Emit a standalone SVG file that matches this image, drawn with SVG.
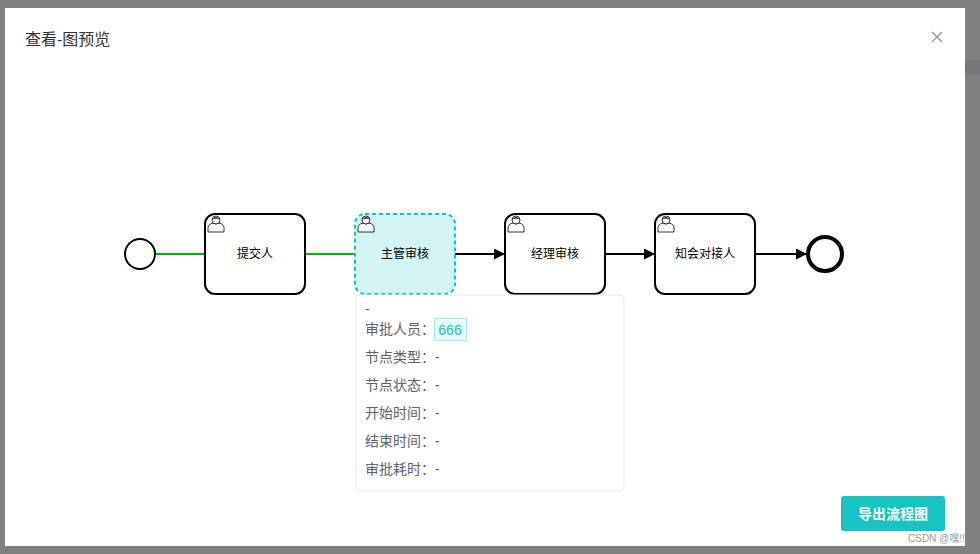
<svg xmlns="http://www.w3.org/2000/svg" width="980" height="554" viewBox="0 0 980 554">
<defs>
<style>
.t{font-family:"Liberation Sans","Noto Sans CJK SC",sans-serif}
.task{fill:#fff;stroke:#000;stroke-width:2}
.lbl{font-size:12px;fill:#000;text-anchor:middle}
.info{font-size:14px;fill:#606266}
.icon{fill:#fff;stroke:#000;stroke-width:0.8}
</style>
<marker id="arr" viewBox="0 0 10 10" refX="10" refY="5" markerWidth="6" markerHeight="6" orient="auto" markerUnits="userSpaceOnUse"><path d="M0,0L10,5L0,10z" fill="#000"/></marker>
<marker id="a2" viewBox="0 0 10 10" refX="10" refY="5" markerWidth="11" markerHeight="11" orient="auto" markerUnits="userSpaceOnUse"><path d="M0,0L10,5L0,10z" fill="#000"/></marker>
<g id="user"><path class="icon" d="M2,17 v-4 q0,-4 5,-5 q3,2 6,0 q5,1 5,5 v4 z"/><circle class="icon" cx="10" cy="5" r="4"/><path d="M6,4.5 q4,-5 8,0 q-4,-2 -8,0z" fill="#000"/></g>
</defs>
<rect width="980" height="554" fill="#808080"/>
<rect x="965" y="60" width="15" height="14" fill="#75777b"/>
<rect x="5" y="8" width="960" height="538" fill="#fff"/>
<text class="t" x="25" y="45" font-size="16" fill="#303133">查看-图预览</text>
<path d="M932,32 l10,10 M942,32 l-10,10" stroke="#909399" stroke-width="1.3"/>
<g id="connectors" fill="none" stroke-width="2">
<line x1="155" y1="254" x2="205" y2="254" stroke="#00b400"/>
<line x1="305" y1="254" x2="355" y2="254" stroke="#00b400"/>
<line x1="455" y1="254" x2="505" y2="254" stroke="#000" marker-end="url(#a2)"/>
<line x1="605" y1="254" x2="655" y2="254" stroke="#000" marker-end="url(#a2)"/>
<line x1="755" y1="254" x2="807" y2="254" stroke="#000" marker-end="url(#a2)"/>
</g>
<g id="start"><circle cx="140" cy="254" r="15" fill="#fff" stroke="#000" stroke-width="2"/></g>
<g id="end"><circle cx="825" cy="254" r="17" fill="#fff" stroke="#000" stroke-width="4"/></g>
<g id="t1"><rect class="task" x="205" y="214" width="100" height="80" rx="10"/><use href="#user" x="206" y="215"/><text class="t lbl" x="255" y="258">提交人</text></g>
<g id="t2"><rect x="355" y="214" width="100" height="80" rx="10" fill="#d3f4f4" stroke="#13c2c2" stroke-width="2" stroke-dasharray="4,3"/><use href="#user" x="356" y="215"/><text class="t lbl" x="405" y="258">主管审核</text></g>
<g id="t3"><rect class="task" x="505" y="214" width="100" height="80" rx="10"/><use href="#user" x="506" y="215"/><text class="t lbl" x="555" y="258">经理审核</text></g>
<g id="t4"><rect class="task" x="655" y="214" width="100" height="80" rx="10"/><use href="#user" x="656" y="215"/><text class="t lbl" x="705" y="258">知会对接人</text></g>
<g id="popup">
<rect x="356" y="295" width="268" height="196" rx="4" fill="#fff" stroke="#e4e7ed"/>
<text class="t info" x="365" y="314">-</text>
<text class="t info" x="365" y="334">审批人员：</text>
<rect x="434.5" y="318.5" width="32" height="22" fill="#e8f9f9" stroke="#a6e9e9"/>
<text class="t" x="450" y="335" font-size="14" fill="#13c2c2" text-anchor="middle">666</text>
<text class="t info" x="365" y="362">节点类型：-</text>
<text class="t info" x="365" y="390">节点状态：-</text>
<text class="t info" x="365" y="418">开始时间：-</text>
<text class="t info" x="365" y="446">结束时间：-</text>
<text class="t info" x="365" y="474">审批耗时：-</text>
</g>
<g id="btn"><rect x="841" y="496" width="104" height="35" rx="3" fill="#17c3c3"/><text class="t" x="893" y="519" font-size="14" font-weight="bold" fill="#fff" text-anchor="middle">导出流程图</text></g>
<text class="t" x="908" y="542" font-size="10" fill="#999">CSDN @嘿!!</text>
</svg>
